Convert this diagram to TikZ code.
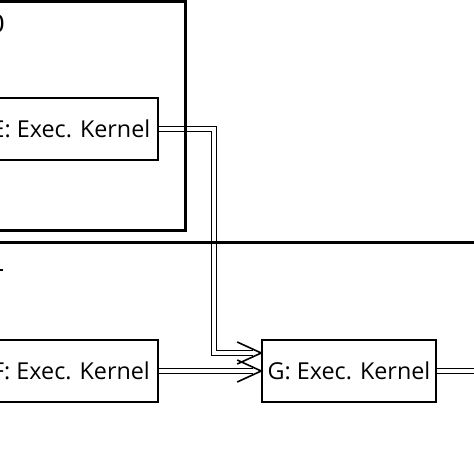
\documentclass[tikz,border=0pt]{standalone}
\usepackage{fontspec}
\setmainfont{Open Sans}
\newfontfamily\labfont{DejaVu Sans}
\usetikzlibrary{calc}
\tikzset{
  kbox/.style={draw, line width=1.6bp, minimum width=174bp, minimum height=62bp,
    fill=white, inner sep=0pt, font=\fontsize{23.4}{28}\selectfont},
  conn/.style={double, double distance=3.4bp, line width=1.6bp},
  barb/.style={line width=1.6bp, line join=miter},
  frame/.style={line width=3bp},
  lab/.style={inner sep=0pt, font=\labfont\fontsize{24}{28}\selectfont}
}
\begin{document}
\begin{tikzpicture}[x=1bp,y=-1bp]
\useasboundingbox (0,0) rectangle (474,474);
\node[kbox] (E) at (71,129) {E: Exec. Kernel};
\node[kbox] (F) at (71,371) {F: Exec. Kernel};
\node[kbox] (G) at (349,371) {G: Exec. Kernel};
\node[lab, anchor=base west] (L0) at (-10.2,33) {0};
\node[lab, anchor=base west] (L1) at (-10,271.5) {1};
\coordinate (bend) at (214,0);
\coordinate (Gin) at ($(G.west)+(0,-18)$);
\coordinate (out) at (490,371);
\draw[conn, shorten >=8bp] (E.east) -- (E.east -| bend) |- (Gin);
\draw[barb] ($(Gin)+(-24,-11)$) -- (Gin) -- ($(Gin)+(-24,11)$);
\draw[conn, shorten >=8bp] (F.east) -- (G.west);
\draw[barb] ($(G.west)+(-24,-11)$) -- (G.west) -- ($(G.west)+(-24,11)$);
\draw[conn] (G.east) -- (out);
\draw[frame] (-10,1.5) rectangle (185,230);
\draw[frame] (-10,242.5) rectangle (484,500);
\end{tikzpicture}
\end{document}
